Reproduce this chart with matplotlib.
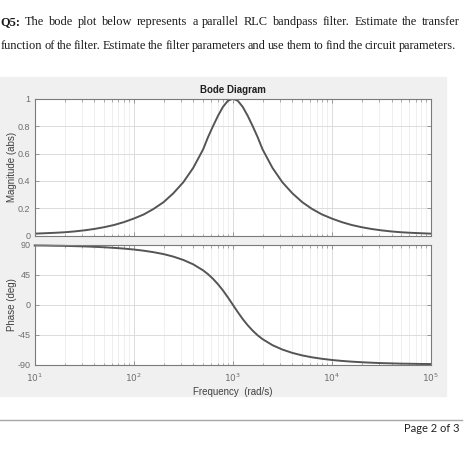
import numpy as np
import matplotlib.pyplot as plt
from matplotlib.patches import Rectangle
from matplotlib.lines import Line2D
from matplotlib.ticker import LogLocator, NullFormatter

plt.rcParams['axes.unicode_minus'] = False
plt.rcParams['font.family'] = ['Liberation Sans', 'DejaVu Sans']

# values (rad/s)
freq = [10, 12.6, 15.8, 20, 25.1, 31.6, 39.8, 50.1, 63.1, 79.4,
        100, 126, 158, 200, 251, 316, 398, 501, 562, 631, 708, 794, 891,
        1000, 1122, 1259, 1413, 1585, 1778, 1995, 2512, 3162, 3981, 5012, 6310, 7943,
        10000, 12589, 15849, 19953, 25119, 31623, 39811, 50119, 63096, 79433, 100000]
magnitude = [0.015, 0.018, 0.021, 0.025, 0.031, 0.039, 0.049, 0.062, 0.078, 0.099,
             0.125, 0.155, 0.195, 0.245, 0.31, 0.39, 0.495, 0.63, 0.72, 0.80, 0.875, 0.94, 0.985,
             1.0, 0.985, 0.94, 0.875, 0.80, 0.72, 0.63, 0.495, 0.39, 0.31, 0.245, 0.195, 0.155,
             0.125, 0.099, 0.078, 0.062, 0.049, 0.039, 0.031, 0.025, 0.021, 0.018, 0.015]
phase = [89.3, 89.2, 88.9, 88.7, 88.3, 87.9, 87.3, 86.6, 85.7, 84.6,
         83.2, 81.4, 79.2, 76.3, 72.5, 67.5, 60.9, 51.8, 46.0, 39.0, 30.9, 21.6, 11.1,
         0, -11.1, -21.6, -30.9, -39.0, -46.0, -51.8, -60.9, -67.5, -72.5, -76.3, -79.2, -81.4,
         -83.2, -84.6, -85.7, -86.6, -87.3, -87.9, -88.3, -88.7, -88.9, -89.2, -89.3]

mag_ticks = [0, 0.2, 0.4, 0.6, 0.8, 1]
mag_labels = ['0', '0.2', '0.4', '0.6', '0.8', '1']
ph_ticks = [-90, -45, 0, 45, 90]
ph_labels = ['-90', '-45', '0', '45', '90']
freq_ticks = [10, 100, 1000, 1e4, 1e5]
freq_labels = [r'$10^1$', r'$10^2$', r'$10^3$', r'$10^4$', r'$10^5$']

question_1 = 'The bode plot below represents a parallel RLC bandpass filter. Estimate the transfer'
question_2 = 'function of the filter. Estimate the filter parameters and use them to find the circuit parameters.'

W, H = 474, 457
fig = plt.figure(figsize=(W / 100, H / 100), dpi=100)


def box(x0, y0, x1, y1):
    # pixel box (top-left origin) -> figure fraction rect
    return [x0 / W, 1 - y1 / H, (x1 - x0) / W, (y1 - y0) / H]


# matlab figure panel
fig.patches.append(Rectangle((0, 1 - 396 / H), 446 / W, (396 - 77) / H,
                             transform=fig.transFigure, color='#f0f0f0', zorder=-1))

ax1 = fig.add_axes(box(34.7, 98.7, 431, 235.7))
ax2 = fig.add_axes(box(34.7, 245, 431, 364.5))

line_col = '#555555'
ax1.plot(freq, magnitude, color=line_col, lw=1.4)
ax2.plot(freq, phase, color=line_col, lw=1.4, clip_on=False)

for ax in (ax1, ax2):
    ax.set_xscale('log')
    ax.set_xlim(10, 1e5)
    ax.xaxis.set_major_locator(LogLocator(base=10, numticks=10))
    ax.xaxis.set_minor_locator(LogLocator(base=10, subs=np.arange(2, 10), numticks=10))
    ax.xaxis.set_minor_formatter(NullFormatter())
    ax.grid(True, which='major', color='#dcdcdc', lw=0.7)
    ax.grid(True, which='minor', axis='x', color='#ececec', lw=0.6)
    ax.set_axisbelow(True)
    ax.tick_params(which='both', direction='in', top=True, right=True,
                   colors='#8a8a8a', labelsize=6.5, labelcolor='#6e6e6e', pad=3)
    ax.tick_params(which='major', length=3, width=0.6)
    ax.tick_params(which='minor', length=1.8, width=0.5)
    for s in ax.spines.values():
        s.set_color('#7a7a7a')
        s.set_linewidth(0.8)

ax1.set_ylim(0, 1)
ax1.set_yticks(mag_ticks)
ax1.set_yticklabels(mag_labels)
ax1.tick_params(axis='x', labelbottom=False)
ax1.set_ylabel('Magnitude (abs)', fontsize=7, color='#404040')
ax1.set_title('Bode Diagram', fontsize=7, fontweight='bold', color='#202020', pad=4)

ax2.set_ylim(-90, 90)
ax2.set_yticks(ph_ticks)
ax2.set_yticklabels(ph_labels)
ax2.set_xticks(freq_ticks)
ax2.set_xticklabels(freq_labels)
ax2.tick_params(axis='x', pad=5)
ax2.set_ylabel('Phase (deg)', fontsize=7, color='#404040')
ax2.set_xlabel('Frequency  (rad/s)', fontsize=7, color='#404040', labelpad=2)
ax1.yaxis.set_label_coords(-0.045, 0.5)
ax2.yaxis.set_label_coords(-0.045, 0.5)


def justify(words, y, x0, x1, bold_first=False, size=8.9):
    r = fig.canvas.get_renderer()
    texts = []
    for i, w in enumerate(words):
        t = fig.text(0, 1 - y / H, w, fontsize=size, family='Liberation Serif',
                     fontweight='bold' if (bold_first and i == 0) else 'normal',
                     va='baseline', ha='left', color='#1a1a1a')
        texts.append(t)
    widths = [t.get_window_extent(r).width for t in texts]
    gap = (x1 - x0 - sum(widths)) / (len(words) - 1)
    x = x0
    for t, wd in zip(texts, widths):
        t.set_x(x / W)
        x += wd + gap


justify(['Q5:'] + question_1.split(), 25, 0.5, 460, bold_first=True)
justify(question_2.split(), 49, 0.5, 456)

fig.add_artist(Line2D([0, 462 / W], [1 - 420 / H] * 2, transform=fig.transFigure,
                      color='#a8a8a8', lw=1))
fig.text(460 / W, 1 - 429 / H, 'Page 2 of 3', fontsize=8, family='Lato',
         ha='right', va='center', color='#222222')

fig.savefig('out.png', dpi=100)
